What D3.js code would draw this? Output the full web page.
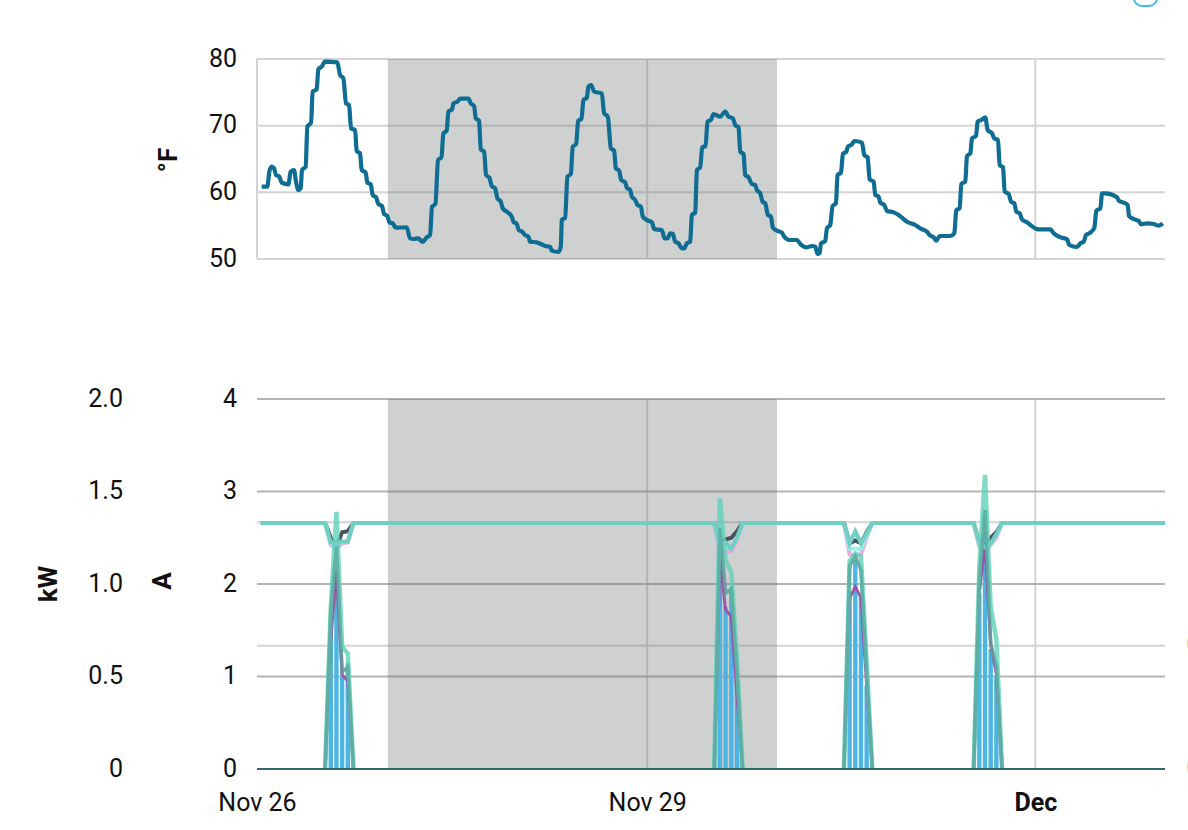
<!DOCTYPE html>
<html>
<head>
<meta charset="utf-8">
<script src="https://cdn.jsdelivr.net/npm/d3@7"></script>
<style>
  html, body { margin: 0; padding: 0; background: #fff; overflow: hidden; }
  svg { display: block; }
  text { font-family: Roboto, sans-serif; fill: #111; }
</style>
</head>
<body>
<svg id="chart" width="1188" height="830"></svg>
<script>
// hours since Nov 26 00:00
var tempHours = [0.86,1.91,2.28,2.71,3.15,3.52,4.13,4.57,5.8,6.23,6.85,7.22,7.65,8.08,8.33,9,9.32,10,10.3,11.04,11.35,11.97,12.59,14.87,15.36,15.98,16.47,17.03,17.4,18.14,18.45,19.06,19.37,20.11,20.42,21.04,21.41,22.03,22.46,23.14,23.51,24.12,24.49,25.11,25.67,27.7,28.32,28.94,29.86,30.66,31.4,32.02,32.39,33.01,33.5,34.12,34.49,35.1,35.41,36.09,36.34,37.08,37.57,39.12,39.55,40.17,40.47,41.09,41.4,42.02,42.39,43,43.44,44.05,44.48,45.1,45.47,46.21,47.14,47.45,48.06,48.43,49.05,49.6,50.22,50.53,51.77,53.31,54.23,54.54,55.78,56.21,56.39,57.01,57.44,58.06,58.43,59.05,59.42,60.03,60.41,61.02,61.33,61.83,62.38,63.8,64.23,64.91,65.47,66.08,66.39,67.01,67.38,68.12,68.43,69.05,69.35,69.97,70.4,71.02,71.39,72.13,73.06,73.49,74.91,75.4,75.96,76.45,76.94,77.37,77.99,78.61,79.04,79.53,80.15,80.46,81.08,81.39,82,82.37,82.99,83.36,83.98,84.47,85.7,86.63,87.25,88.05,88.48,89.1,89.41,90.02,90.33,90.95,91.57,92.18,92.49,93.11,93.54,94.03,94.53,95.08,95.45,96.19,97.12,97.55,98.54,99.9,100.51,101.75,102.67,103.29,103.72,104.09,104.34,105.14,105.45,106.06,106.5,107.11,107.42,108.04,108.41,109.03,109.33,110.08,110.51,111.93,112.36,112.98,113.35,114.09,114.4,115.01,115.32,116.06,116.56,117.79,118.71,119.33,120.26,121.8,122.73,123.96,124.45,125.19,125.69,126.3,128.28,129.02,129.39,130.01,130.31,131.05,131.36,131.98,132.29,133.03,133.34,134.02,134.76,135.19,135.99,136.42,137.1,137.41,138.03,138.34,139.08,139.51,140.12,140.49,141.11,141.54,142.47,143.09,144.51,146.79,147.41,148.33,149.87,150.3,151.72,152.34,152.96,153.39,154.19,154.93,155.3,156.04,156.35,156.97,159.13,159.44,160.36,161.1,161.35,162.21,163.14,163.57,164.68,165.91,166.84,167.58];
var tempValues = [60.85,60.85,63.1,63.85,63.6,62.6,62.35,61.45,61.2,63.1,63.35,61.6,60.35,60.6,63.35,63.85,69.85,70.45,75.1,75.45,78.45,78.85,79.6,79.5,77.6,77.1,73.35,73.1,69.6,69.35,66.2,65.85,63.35,62.95,61.45,61.2,59.6,59.25,58.25,57.95,56.75,56.45,55.5,55.35,54.7,54.75,53.1,53,53.1,52.55,53.25,53.6,57.85,58.25,64.85,65.25,68.85,69.25,72.1,72.45,73.35,73.6,74.05,74.05,73.35,72.95,71.1,70.75,66.45,66.1,62.6,62.2,60.95,60.6,59.1,58.6,57.6,57.1,56.35,55.6,55.25,54.35,54.1,53.6,53.35,52.6,52.5,51.95,51.85,51.25,51.05,51.85,55.85,56.2,62.35,62.75,66.85,67.25,70.7,71.05,73.85,74.2,75.85,76.1,75.1,74.85,71.85,71.35,66.6,66.25,63.6,63.25,61.85,61.5,60.7,60.35,59.35,58.85,58.1,57.85,56.35,55.85,55.5,54.5,54.3,53.1,53.1,53.85,53.75,52.6,52.35,51.6,51.6,52.35,52.6,56.6,56.95,63.35,63.75,66.75,66.95,70.6,70.85,71.75,71.35,72.1,71.35,71.1,70.1,69.75,66.1,65.75,62.6,62.25,61.25,61.1,60.35,59.85,58.6,58.35,56.6,56.35,54.7,54.25,53.95,53.35,52.85,52.85,52.25,51.75,51.95,51.85,50.75,50.85,52.35,52.7,54.6,55.1,57.95,58.35,62.6,62.95,65.75,66.1,66.85,67.2,67.7,67.45,65.6,65.25,61.95,61.6,59.6,59.35,58.45,58.1,57.2,57,56.6,56.2,55.6,55.1,54.6,54.1,53.6,53.25,52.75,53.45,53.45,53.85,57.35,57.6,61.25,61.6,65.45,65.85,68.1,68.45,70.6,70.85,71.25,69.35,68.85,68.1,67.85,64.1,63.75,60.1,59.75,58.6,58.35,57.1,56.85,55.95,55.5,55.1,54.45,54.45,53.85,53.35,52.95,52.1,51.8,52.35,52.6,53.6,53.95,54.7,57.25,57.6,59.85,59.85,59.25,58.75,58.45,58.1,56.45,56,55.7,55.2,55.35,55.25,55,55.35];

// charging sessions: first and last entry are the ends of the flat stretch
var chargeHours = [0.7, 12.6,13.65,14.7,15.75,16.8,17.85, 84.6,85.65,86.7,87.75,88.8,89.85, 108.6,109.65,110.7,111.75,112.8,113.85, 132.6,133.65,134.7,135.75,136.8,137.85, 168];
var darkLine  = [2.66, 2.66,2.5,2.4,2.56,2.57,2.66, 2.66,2.42,2.48,2.5,2.57,2.66, 2.66,2.44,2.47,2.44,2.56,2.66, 2.66,2.45,2.4,2.5,2.56,2.66, 2.66];
var pinkLine  = [2.66, 2.66,2.42,2.38,2.44,2.45,2.66, 2.66,2.32,2.35,2.36,2.46,2.66, 2.66,2.32,2.3,2.32,2.5,2.66, 2.66,2.4,2.36,2.42,2.5,2.66, 2.66];
var cyanLine  = [2.66, 2.66,2.43,2.42,2.45,2.46,2.66, 2.66,2.38,2.4,2.4,2.48,2.66, 2.66,2.38,2.38,2.38,2.52,2.66, 2.66,2.42,2.38,2.43,2.52,2.66, 2.66];
var topLine   = [2.66, 2.66,2.45,2.44,2.46,2.46,2.66, 2.66,2.42,2.45,2.38,2.5,2.66, 2.66,2.44,2.57,2.44,2.55,2.66, 2.66,2.44,2.4,2.44,2.54,2.66, 2.66];
var peakLine  = [0, 0,1.75,2.78,1.32,1.25,0, 0,2.93,2.25,2.13,1.2,0, 0,2.25,2.33,2.3,1.15,0, 0,2.2,3.18,1.75,1.4,0, 0];
var midLine   = [0, 0,1.7,2.4,1.05,1.1,0, 0,2.6,1.9,1.95,1.05,0, 0,2.2,2.3,2.15,1.05,0, 0,2.05,2.8,1.35,1.1,0, 0];
var purpleLine = [0, 0,1.4,2.13,1.02,0.95,0, 0,2.26,1.72,1.65,0.8,0, 0,1.85,1.97,1.85,0.9,0, 0,1.9,2.44,1.35,1.03,0, 0];
var barValues = [0, 0,1.6,2.1,1,1.15,0, 0,2.6,1.75,1.93,1,0, 0,1.9,2.26,1.85,0.9,0, 0,1.9,2.8,1.3,1,0, 0];

var weekend = [24.2, 96.2];
var dayTicks = [0, 72.2, 144];
var dayLabels = ["Nov 26", "Nov 29", "Dec"];
var tempTicks = [50, 60, 70, 80];
var ampTicks = [0, 1, 2, 3, 4];
var kwTicks = [0, 0.5, 1, 1.5, 2];
var kwLabels = ["0", "0.5", "1.0", "1.5", "2.0"];
var thirdTicks = [0, 0.5, 1, 1.5];
var thirdLabels = ["0", "0.5", "1.0", "1.5"];

var svg = d3.select("#chart");

var x = d3.scaleLinear().domain([0, 168]).range([257, 1165]);
var yTemp = d3.scaleLinear().domain([50, 80]).range([259, 59]);
var yAmp = d3.scaleLinear().domain([0, 4]).range([769, 399]);
var yKw = d3.scaleLinear().domain([0, 2]).range([769, 399]);
var yThird = d3.scaleLinear().domain([0, 1.5]).range([769, 399]);

var lightGrid = "#d4d4d4", midGrid = "#b4b4b4";

function hLines(scale, ticks, color) {
    svg.append("g").selectAll("line").data(ticks).enter().append("line")
        .attr("x1", x.range()[0]).attr("x2", x.range()[1])
        .attr("y1", function(d) { return scale(d); })
        .attr("y2", function(d) { return scale(d); })
        .attr("stroke", color).attr("stroke-width", 2);
}

function vLines(scale, ticks) {
    svg.append("g").selectAll("line").data(ticks).enter().append("line")
        .attr("x1", function(d) { return x(d); })
        .attr("x2", function(d) { return x(d); })
        .attr("y1", scale.range()[0]).attr("y2", scale.range()[1])
        .attr("stroke", lightGrid).attr("stroke-width", 2);
}

function axisLabels(axis, left) {
    var g = svg.append("g").attr("transform", "translate(" + left + ",0)").call(axis);
    g.select(".domain").remove();
    g.selectAll("text").style("font-size", "25px").style("font-family", "Roboto, sans-serif").attr("fill", "#111");
    return g;
}

function title(txt, px, py) {
    svg.append("text")
        .attr("transform", "translate(" + px + "," + py + ") rotate(-90)")
        .attr("text-anchor", "middle")
        .style("font-size", "26px").style("font-weight", "700")
        .text(txt);
}

// grid first, the band sits on top and darkens it
hLines(yTemp, [60, 70, 80, 50], lightGrid);
vLines(yTemp, dayTicks);
hLines(yThird, [0.5, 1], lightGrid);
vLines(yAmp, dayTicks.slice(1));
hLines(yAmp, [1, 2, 3, 4], midGrid);

[yTemp, yAmp].forEach(function(scale) {
    svg.append("rect")
        .attr("x", x(weekend[0])).attr("width", x(weekend[1]) - x(weekend[0]))
        .attr("y", scale.range()[1]).attr("height", scale.range()[0] - scale.range()[1])
        .attr("fill", "#6f7373").attr("opacity", 0.335);
});

// temperature
var tempPoints = tempHours.map(function(h, i) { return [h, tempValues[i]]; });
svg.append("path")
    .attr("d", d3.line().x(function(d) { return x(d[0]); }).y(function(d) { return yTemp(d[1]); }).curve(d3.curveMonotoneX)(tempPoints))
    .attr("fill", "none").attr("stroke", "#0f6c92").attr("stroke-width", 4.2).attr("stroke-linejoin", "round");

// charging, flat runs at zero are left out so the baseline stays thin
function chargePath(values, color, width, opacity) {
    var line = d3.line().x(function(d) { return x(d[0]); }).y(function(d) { return yAmp(d[1]); });
    var runs = [], run = [];
    chargeHours.forEach(function(h, i) {
        if (i > 0 && values[i] === 0 && values[i - 1] === 0) {
            if (run.length > 1) runs.push(run);
            run = [];
        }
        run.push([h, values[i]]);
    });
    if (run.length > 1) runs.push(run);
    svg.append("path")
        .attr("d", runs.map(function(r) { return line(r); }).join(""))
        .attr("fill", "none").attr("stroke", color).attr("stroke-width", width).attr("opacity", opacity);
}

chargePath(darkLine, "#46525c", 4, 1);
chargePath(pinkLine, "#f59ae6", 4, 0.9);
chargePath(cyanLine, "#8ff0e2", 4, 0.9);

svg.append("g").selectAll("rect")
    .data(chargeHours.map(function(h, i) { return [h, barValues[i]]; }).filter(function(d) { return d[1] > 0; }))
    .enter().append("rect")
    .attr("x", function(d) { return x(d[0]) - 2.2; })
    .attr("width", 4.4)
    .attr("y", function(d) { return yAmp(d[1]); })
    .attr("height", function(d) { return yAmp(0) - yAmp(d[1]); })
    .attr("fill", "#4cb5e3");

chargePath(midLine, "#7f9f9f", 3.5, 0.75);
chargePath(purpleLine, "#9b4fa5", 3, 0.95);
chargePath(peakLine, "#5fd2b8", 4.5, 0.8);
chargePath(topLine, "#6fcfc3", 4, 1);
chargePath(midLine, "#5aa89e", 3.5, 0.7);

// baseline
svg.append("line")
    .attr("x1", x.range()[0]).attr("x2", x.range()[1])
    .attr("y1", yAmp(0)).attr("y2", yAmp(0))
    .attr("stroke", "#33696b").attr("stroke-width", 2);

// axes
axisLabels(d3.axisLeft(yTemp).tickValues(tempTicks).tickSize(0).tickPadding(20), 257)
    .attr("transform", "translate(257,-1)");
axisLabels(d3.axisLeft(yAmp).tickValues(ampTicks).tickSize(0).tickFormat(d3.format("d")).tickPadding(20), 257)
    .attr("transform", "translate(257,-1)");
axisLabels(d3.axisLeft(yKw).tickValues(kwTicks).tickSize(0).tickFormat(function(d, i) { return kwLabels[i]; }).tickPadding(0), 123)
    .attr("transform", "translate(123,-1)");
axisLabels(d3.axisRight(yThird).tickValues(thirdTicks).tickSize(0).tickFormat(function(d, i) { return thirdLabels[i]; }).tickPadding(0), 1186.6)
    .attr("transform", "translate(1186.6,-1)");

var xAxisG = axisLabels(d3.axisBottom(x).tickValues(dayTicks).tickSize(0).tickFormat(function(d, i) { return dayLabels[i]; }).tickPadding(24), 0);
xAxisG.attr("transform", "translate(0,769)");
xAxisG.selectAll("text").filter(function(d) { return d === 144; }).style("font-weight", "700");

title("°F", 177, 160);
title("kW", 57, 584);
title("A", 171, 581);

// corner of the button that sits above the chart
svg.append("rect")
    .attr("x", 1134).attr("y", -20).attr("width", 23).attr("height", 26).attr("rx", 8)
    .attr("fill", "none").attr("stroke", "#4cb5e3").attr("stroke-width", 2);
</script>
</body>
</html>
